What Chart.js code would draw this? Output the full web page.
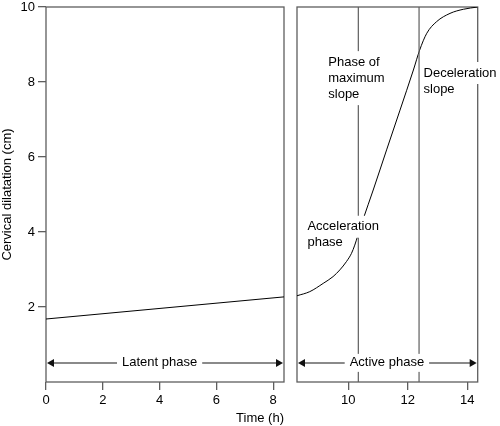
<!DOCTYPE html>
<html><head><meta charset="utf-8">
<script src="https://cdn.jsdelivr.net/npm/chart.js@4/dist/chart.umd.min.js"></script>
<style>
html,body{margin:0;padding:0;background:#fff;}
#wrap{position:relative;width:500px;height:426px;overflow:hidden;}
canvas{position:absolute;top:0;}
#c1{left:0;}
#c2{left:290px;}
</style></head><body>
<div id="wrap"><canvas id="c1" width="290" height="426"></canvas><canvas id="c2" width="210" height="426"></canvas></div>
<script>
// ---- data ----
const latentTime = [0, 8.38];
const latentDilatation = [1.68, 2.27];
const activeTime = [8.28, 8.71, 9.16, 9.49, 9.72, 9.94, 10.11, 10.22, 10.33, 10.51, 10.84, 11.29, 11.74, 12.19, 12.40, 12.64, 12.97, 13.42, 13.87, 14.35];
const activeDilatation = [2.30, 2.41, 2.63, 2.81, 2.99, 3.21, 3.43, 3.65, 3.92, 4.36, 5.12, 6.19, 7.25, 8.32, 8.85, 9.30, 9.61, 9.83, 9.94, 10.0];
const phaseBoundaries = [10.34, 12.38];
const latentTicks = [0, 2, 4, 6, 8];
const activeTicks = [10, 12, 14];
const dilatationTicks = [2, 4, 6, 8, 10];
const latentRange = [0, 8.38];
const activeRange = [8.28, 14.35];
const dilatationRange = [0, 10];
const latentNotes = [];
const activeNotes = [
  {x: 9.33, y: 8.53, lines: ['Phase of', 'maximum', 'slope']},
  {x: 12.53, y: 8.24, lines: ['Deceleration', 'slope']},
  {x: 8.63, y: 4.14, lines: ['Acceleration', 'phase']}
];
const latentArrow = {y: 0.51, x: 4.0, text: 'Latent phase'};
const activeArrow = {y: 0.51, x: 11.3, text: 'Active phase'};

// ---- style ----
const FONT = '"Liberation Sans", Arial, Helvetica, sans-serif';
const AXIS = '#5e5e5e';
Chart.defaults.font.family = FONT;
Chart.defaults.font.size = 13;
Chart.defaults.color = '#000';

function pts(xs, ys) { return xs.map((v, i) => ({x: v, y: ys[i]})); }

function decoPlugin(notes, arrow) {
  return {
    id: 'deco',
    beforeDatasetsDraw(chart) {
      const {ctx, chartArea: a} = chart;
      ctx.save();
      ctx.strokeStyle = AXIS; ctx.lineWidth = 1.3;
      ctx.strokeRect(a.left, a.top, a.right - a.left, a.bottom - a.top);
      ctx.restore();
    },
    afterDatasetsDraw(chart) {
      const {ctx, chartArea: a, scales: {x, y}} = chart;
      ctx.save();
      ctx.font = '13px ' + FONT;
      ctx.textBaseline = 'middle';
      ctx.textAlign = 'left';
      notes.forEach(n => {
        const px = x.getPixelForValue(n.x), py0 = y.getPixelForValue(n.y);
        ctx.fillStyle = '#fff';
        n.lines.forEach((t, i) => {
          const w = ctx.measureText(t).width;
          ctx.fillRect(px - 2, py0 + i * 16 - 11, w + 4, 22);
        });
        ctx.fillStyle = '#000';
        n.lines.forEach((t, i) => ctx.fillText(t, px, py0 + i * 16));
      });
      // double arrow
      const ay = y.getPixelForValue(arrow.y);
      ctx.strokeStyle = '#8a8a8a'; ctx.lineWidth = 2;
      ctx.beginPath(); ctx.moveTo(a.left + 6, ay); ctx.lineTo(a.right - 6, ay); ctx.stroke();
      ctx.fillStyle = '#111';
      ctx.beginPath(); ctx.moveTo(a.left + 1, ay); ctx.lineTo(a.left + 8, ay - 4); ctx.lineTo(a.left + 8, ay + 4); ctx.closePath(); ctx.fill();
      ctx.beginPath(); ctx.moveTo(a.right - 1, ay); ctx.lineTo(a.right - 8, ay - 4); ctx.lineTo(a.right - 8, ay + 4); ctx.closePath(); ctx.fill();
      const cx = x.getPixelForValue(arrow.x);
      ctx.textAlign = 'center';
      const w = ctx.measureText(arrow.text).width;
      ctx.fillStyle = '#fff'; ctx.fillRect(cx - w / 2 - 5, ay - 9, w + 10, 18);
      ctx.fillStyle = '#000'; ctx.fillText(arrow.text, cx, ay);
      ctx.restore();
    }
  };
}

function zeroPad(s) { s.paddingLeft = 0; s.paddingRight = 0; s.paddingTop = 0; s.paddingBottom = 0; }

function makeChart(id, opts) {
  const datasets = [];
  opts.verticals.forEach(v => datasets.push({
    data: pts([v, v], [dilatationRange[0], dilatationRange[1]]),
    borderColor: AXIS, borderWidth: 1.2, pointRadius: 0, tension: 0
  }));
  datasets.push({
    data: pts(opts.xs, opts.ys),
    borderColor: '#000', borderWidth: 1, pointRadius: 0,
    cubicInterpolationMode: 'monotone'
  });
  return new Chart(document.getElementById(id), {
    type: 'line',
    data: {datasets},
    options: {
      responsive: false, animation: false, events: [],
      layout: {padding: opts.padding},
      plugins: {legend: {display: false}, tooltip: {enabled: false}},
      scales: {
        x: {
          type: 'linear', min: opts.range[0], max: opts.range[1],
          afterBuildTicks: s => { s.ticks = opts.ticks.map(v => ({value: v})); },
          afterFit: s => { s.height = 44; zeroPad(s); },
          grid: {display: true, drawOnChartArea: false, drawTicks: true, tickLength: 8, color: AXIS, lineWidth: 1.3},
          border: {display: false},
          ticks: {padding: 3, maxRotation: 0, autoSkip: false, color: '#000', font: {size: 13}},
          title: {display: opts.xTitle, text: 'Time (h)', align: 'end', padding: 0, color: '#000', font: {size: 13}}
        },
        y: {
          type: 'linear', min: dilatationRange[0], max: dilatationRange[1],
          display: opts.showY,
          afterBuildTicks: s => { s.ticks = dilatationTicks.map(v => ({value: v})); },
          afterFit: s => { s.width = opts.showY ? 46 : 0; zeroPad(s); },
          grid: {display: true, drawOnChartArea: false, drawTicks: true, tickLength: 8, color: AXIS, lineWidth: 1.3},
          border: {display: false},
          ticks: {padding: 3, autoSkip: false, color: '#000', font: {size: 13}},
          title: {display: true, text: 'Cervical dilatation (cm)', padding: 0, color: '#000', font: {size: 13}}
        }
      }
    },
    plugins: [decoPlugin(opts.notes, opts.arrow)]
  });
}

makeChart('c1', {
  xs: latentTime, ys: latentDilatation, range: latentRange, ticks: latentTicks,
  verticals: [], notes: latentNotes, arrow: latentArrow, showY: true, xTitle: true,
  padding: {left: 0, top: 7, right: 6, bottom: 0}
});
makeChart('c2', {
  xs: activeTime, ys: activeDilatation, range: activeRange, ticks: activeTicks,
  verticals: phaseBoundaries, notes: activeNotes, arrow: activeArrow, showY: false, xTitle: false,
  padding: {left: 7, top: 7, right: 22.3, bottom: 0}
});
</script>
</body></html>
